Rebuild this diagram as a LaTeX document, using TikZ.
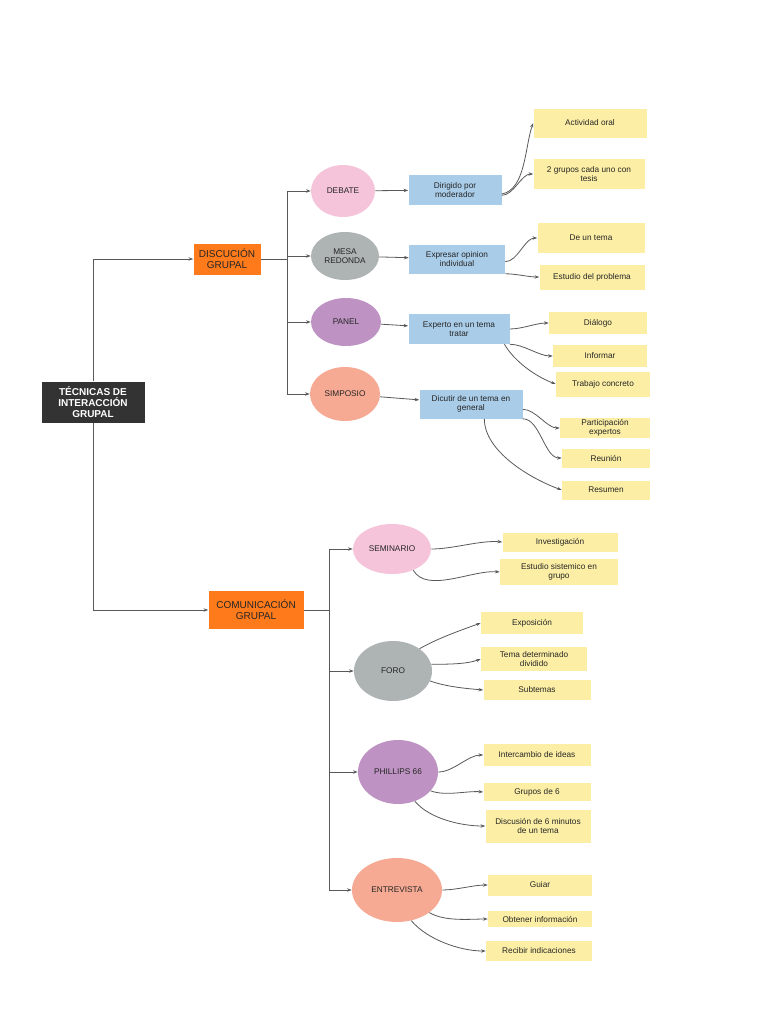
\documentclass[tikz,border=0pt]{standalone}
\usepackage{fontspec}
\setmainfont{Liberation Sans}
\usetikzlibrary{arrows.meta,shapes.geometric}
\definecolor{yel}{HTML}{FCEFA5}
\definecolor{blu}{HTML}{A9CCE8}
\definecolor{pnk}{HTML}{F5C4DA}
\definecolor{gry}{HTML}{AEB3B3}
\definecolor{pur}{HTML}{BE93C3}
\definecolor{sal}{HTML}{F7AA93}
\definecolor{org}{HTML}{FF7A1A}
\definecolor{drk}{HTML}{333333}
\begin{document}
\begin{tikzpicture}[x=0.75pt,y=-0.75pt,
  base/.style={inner sep=0pt,align=center,font=\fontsize{6.2}{7}\selectfont,text=black!85},
  yb/.style={base,fill=yel,rectangle},
  bb/.style={base,fill=blu,rectangle},
  ob/.style={base,fill=org,font=\fontsize{7.5}{8}\selectfont},
  ln/.style={draw=black!65,line width=0.6pt,-{Stealth[length=3.5pt,width=2.5pt]}},
  cv/.style={ln,out=0,in=180,looseness=0.8}]
\useasboundingbox (0,0) rectangle (768,1024);
\fill[white] (0,0) rectangle (768,1024);
\newcommand\bx[7]{\node[#1,minimum width=#4*0.75pt,minimum height=#5*0.75pt] (#2) at (#3) {#6};}
% root and main
\bx{base,fill=drk,text=white,font=\bfseries\fontsize{7.5}{8.5}\selectfont}{root}{93,402}{103}{41}{TÉCNICAS DE\\INTERACCIÓN\\GRUPAL}{}
\bx{ob}{dis}{227,259}{67}{31}{DISCUCIÓN\\GRUPAL}{}
\bx{ob}{com}{256,610}{95}{38}{COMUNICACIÓN\\GRUPAL}{}
\draw[ln] (root.north) |- (dis.west);
\draw[ln] (root.south) |- (com.west);
% ellipses
\tikzset{E/.style n args={3}{base,ellipse,fill=#1,minimum width=#2*1.5pt,minimum height=#3*1.5pt}}
\node[E={pnk}{32}{26}] (deb) at (343,191) {DEBATE};
\node[E={gry}{34}{24}] (mes) at (345,256) {MESA\\REDONDA};
\node[E={pur}{35}{24}] (pan) at (346,322) {PANEL};
\node[E={sal}{35}{27}] (sim) at (345,394) {SIMPOSIO};
\node[E={pnk}{39}{25}] (sem) at (392,549) {SEMINARIO};
\node[E={gry}{39}{30}] (for) at (393,671) {FORO};
\node[E={pur}{40}{32}] (phi) at (398,772) {PHILLIPS 66};
\node[E={sal}{45}{32}] (ent) at (397,890) {ENTREVISTA};
\coordinate (j1) at (287,259);
\draw[draw=black!65,line width=0.6pt] (dis.east) -- (j1);
\foreach \t in {deb,mes,pan,sim} \draw[ln] (j1) |- (\t.west);
\coordinate (j2) at (329,610);
\draw[draw=black!65,line width=0.6pt] (com.east) -- (j2);
\foreach \t in {sem,for,phi,ent} \draw[ln] (j2) |- (\t.west);
% blue
\bx{bb}{dir}{455,190}{93}{30}{Dirigido por\\moderador}{}
\bx{bb}{exp}{457,259}{96}{29}{Expresar opinion\\individual}{}
\bx{bb}{ext}{459,329}{101}{30}{Experto en un tema\\tratar}{}
\bx{bb}{dic}{471,404}{103}{29}{Dicutir de un tema en\\general}{}
\draw[ln] (deb) -- (dir);
\draw[ln] (mes) -- (exp);
\draw[ln] (pan) -- (ext);
\draw[ln] (sim) -- (dic);
% yellow
\bx{yb}{y1}{590,123}{113}{29}{Actividad oral}{}
\bx{yb}{y2}{589,174}{111}{30}{2 grupos cada uno con\\tesis}{}
\bx{yb}{y3}{591,238}{107}{30}{De un tema}{}
\bx{yb}{y4}{592,277}{105}{25}{Estudio del problema}{}
\bx{yb}{y5}{598,323}{98}{22}{Diálogo}{}
\bx{yb}{y6}{600,356}{94}{22}{Informar}{}
\bx{yb}{y7}{603,384}{94}{25}{Trabajo concreto}{}
\bx{yb}{y8}{605,428}{90}{20}{Participación\\expertos}{}
\bx{yb}{y9}{606,458}{88}{19}{Reunión}{}
\bx{yb}{y10}{606,490}{88}{19}{Resumen}{}
\draw[cv] ([yshift=-3pt]dir.east) to[out=10,in=250] (y1.west);
\draw[cv] ([yshift=-4pt]dir.east) to (y2.west);
\draw[cv] ([yshift=-2pt]exp.east) to (y3.west);
\draw[cv] (exp.south east) to (y4.west);
\draw[cv] (ext.east) to (y5.west);
\draw[cv] (ext.south east) to (y6.west);
\draw[cv] ([xshift=-4pt]ext.south east) to[out=-60,in=160] (y7.west);
\draw[cv] ([yshift=-4pt]dic.east) to (y8.west);
\draw[cv] (dic.south east) to (y9.west);
\draw[cv] ([xshift=10pt]dic.south) to[out=-90,in=160] (y10.west);
\bx{yb}{z1}{560,542}{115}{19}{Investigación}{}
\bx{yb}{z2}{559,572}{118}{26}{Estudio sistemico en\\grupo}{}
\bx{yb}{z3}{532,623}{102}{22}{Exposición}{}
\bx{yb}{z4}{534,659}{106}{24}{Tema determinado\\dividido}{}
\bx{yb}{z5}{537,690}{107}{20}{Subtemas}{}
\bx{yb}{z6}{537,755}{107}{22}{Intercambio de ideas}{}
\bx{yb}{z7}{537,792}{107}{18}{Grupos de 6}{}
\bx{yb}{z8}{538,826}{105}{33}{Discusión de 6 minutos\\de un tema}{}
\bx{yb}{z9}{540,885}{104}{21}{Guiar}{}
\bx{yb}{z10}{540,919}{104}{16}{Obtener información}{}
\bx{yb}{z11}{539,951}{106}{20}{Recibir indicaciones}{}
\draw[cv] (sem.east) to[out=0,in=175] (z1.west);
\draw[cv] (sem.-45) to[out=-60,in=175] (z2.west);
\draw[cv] (for.40) to[out=30,in=200] (z3.west);
\draw[cv] (for.10) to[out=0,in=200] (z4.west);
\draw[cv] (for.-15) to[out=-20,in=175] (z5.west);
\draw[cv] (phi.east) to[out=0,in=180] (z6.west);
\draw[cv] (phi.-30) to[out=-20,in=175] (z7.west);
\draw[cv] (phi.-60) to[out=-50,in=180] (z8.west);
\draw[cv] (ent.east) to (z9.west);
\draw[cv] (ent.-35) to[out=-30,in=180] (z10.west);
\draw[cv] (ent.-65) to[out=-50,in=180] (z11.west);
\end{tikzpicture}
\end{document}
